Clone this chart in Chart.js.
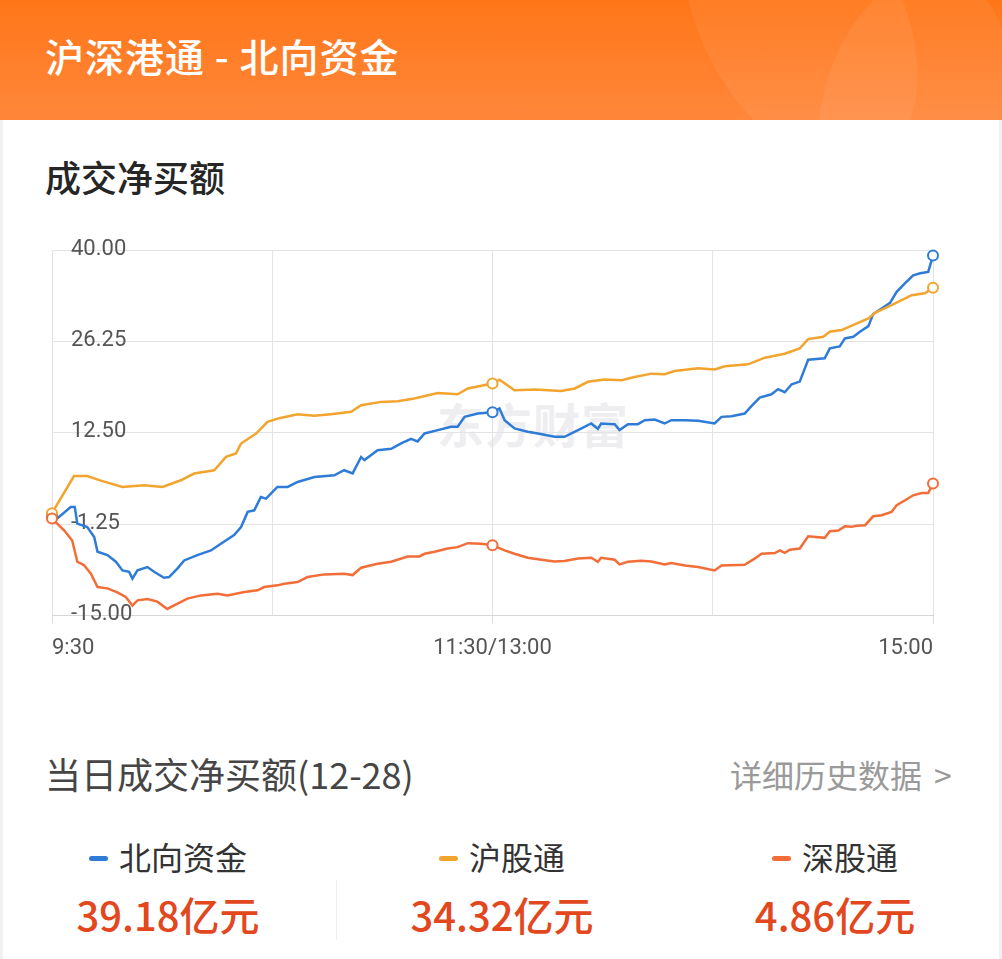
<!DOCTYPE html>
<html lang="zh-CN">
<head>
<meta charset="utf-8">
<title>沪深港通 - 北向资金</title>
<script src="https://cdn.jsdelivr.net/npm/chart.js@4.4.1/dist/chart.umd.min.js"></script>
<style>
  html, body { margin: 0; padding: 0; }
  body {
    width: 1002px; height: 959px; position: relative; overflow: hidden;
    background: #f1f1f1;
    font-family: "Noto Sans CJK SC", "Noto Sans", sans-serif;
  }
  .header {
    position: absolute; left: 0; top: 0; width: 1002px; height: 120px; overflow: hidden;
    background: linear-gradient(180deg, #ff7618 0%, #ff873b 100%);
  }
  .header h1 {
    position: absolute; left: 45px; top: 36px; margin: 0;
    font-size: 39px; line-height: 1; font-weight: 500; color: #fff; letter-spacing: 1px;
  }
  .deco { position: absolute; border-radius: 50%; background: rgba(255, 255, 255, 0.06); }
  .page { position: absolute; left: 3px; top: 120px; width: 996px; height: 839px; background: #fff; }
  .abs { position: absolute; line-height: 1; white-space: nowrap; }
  .sub { left: 45px; top: 158px; font-size: 36px; font-weight: 500; color: #262626; }
  .watermark { left: 437px; top: 399px; font-size: 47px; font-weight: 700; color: #eeeef1; letter-spacing: 1px; }
  #chartBox { position: absolute; left: 0; top: 200px; width: 1002px; height: 474px; }
  .today { left: 45px; top: 755px; font-size: 36px; color: #454545; }
  .more { left: 730px; top: 758px; font-size: 32px; color: #9a9a9a; }
  .more span { margin-left: 12px; }
  .col { position: absolute; top: 840px; width: 334px; text-align: center; }
  .legend { font-size: 32px; color: #333; line-height: 1; }
  .legend i {
    display: inline-block; width: 19px; height: 5px; border-radius: 3px;
    vertical-align: middle; margin-right: 11px; position: relative; top: -3px;
  }
  .value { margin-top: 22px; font-size: 40px; font-weight: 500; color: #e2471d; line-height: 1; }
  .sep { position: absolute; left: 336px; top: 880px; width: 1px; height: 60px; background: #efefef; }
</style>
</head>
<body>
<div class="header">
  <div class="deco" style="left:700px; top:-150px; width:200px; height:330px; transform:rotate(-28deg);"></div>
  <div class="deco" style="left:820px; top:-30px; width:190px; height:300px; transform:rotate(12deg);"></div>
  <h1>沪深港通 - 北向资金</h1>
</div>
<div class="page"></div>

<div class="abs sub">成交净买额</div>
<div class="abs watermark">东方财富</div>
<div id="chartBox"><canvas id="flowChart" width="1002" height="474"></canvas></div>

<div class="abs today">当日成交净买额(12-28)</div>
<div class="abs more">详细历史数据<span>&gt;</span></div>

<div class="col" style="left:1px;">
  <div class="legend"><i style="background:#2f7bd8"></i>北向资金</div>
  <div class="value">39.18亿元</div>
</div>
<div class="col" style="left:335px;">
  <div class="legend"><i style="background:#f2a42e"></i>沪股通</div>
  <div class="value">34.32亿元</div>
</div>
<div class="col" style="left:668px;">
  <div class="legend"><i style="background:#f26d37"></i>深股通</div>
  <div class="value">4.86亿元</div>
</div>
<div class="sep"></div>

<script>
// axes (minutes after 9:30, trading time only; 120 = 11:30/13:00)
const xTickValues = [0, 60, 120, 180, 240];
const xTickLabels = ['9:30', '', '11:30/13:00', '', '15:00'];
const yTickValues = [-15, -1.25, 12.5, 26.25, 40];

// 北向资金 (亿元)
const northTimes = [0, 1.4, 5.1, 6.2, 6.9, 9.6, 11.5, 12.4, 15.1, 17.4, 19.2, 21.0, 21.9, 23.3, 26.0, 27.8,
  30.5, 31.9, 34.2, 36.0, 39.6, 43.3, 46.0, 49.6, 51.5, 53.3, 55.1, 56.9, 58.3, 61.4, 64.2, 66.9, 71.5,
  76.9, 79.6, 81.9, 84.2, 85.1, 88.7, 92.4, 95.1, 97.8, 99.6, 101.5, 105.1, 108.7, 110.5, 112.4, 116.0,
  120, 121.9, 123.3, 126.0, 129.6, 132.4, 136.9, 139.6, 143.3, 146.9, 148.7, 149.6, 153.3, 154.6, 156.9,
  159.6, 161.5, 164.2, 166.9, 168.7, 172.4, 176.0, 180.5, 182.4, 185.1, 188.7, 190.6, 192.8, 196.0, 197.8,
  199.6, 201.5, 203.7, 206.0, 210.5, 211.9, 214.6, 216.0, 218.3, 220.1, 222.4, 223.7, 226.0, 228.3, 230.1,
  232.4, 234.6, 236.5, 238.7, 240];
const northValues = [0, -0.4, 1.34, 1.34, -1.16, -1.67, -3.17, -5.4, -5.9, -6.9, -8.2, -8.4, -9.44, -8.2, -7.7, -8.4,
  -9.3, -9.2, -7.9, -6.7, -5.9, -5.2, -4.2, -2.9, -1.67, 0.6, 0.84, 2.85, 2.6, 4.35, 4.35, 5.1, 5.86,
  6.1, 6.87, 6.4, 8.87, 8.4, 9.88, 10.1, 10.9, 11.6, 11.2, 12.4, 12.9, 13.4, 13.4, 14.9, 15.4,
  15.6, 16.15, 14.4, 13.15, 12.65, 12.4, 11.9, 11.9, 12.9, 13.9, 13.1, 13.9, 13.8, 12.9, 13.8,
  13.8, 14.4, 14.5, 13.9, 14.4, 14.4, 14.3, 13.9, 14.9, 15.0, 15.4, 16.55, 17.8, 18.3, 19.07,
  18.6, 19.8, 20.2, 23.5, 23.7, 25.2, 25.5, 26.7, 26.95, 27.7, 28.55, 30.36, 31.2, 32.06, 33.7,
  35.0, 36.2, 36.5, 36.7, 39.18];

// 沪股通 (亿元)
const shTimes = [0, 6.0, 9.6, 13.3, 19.2, 25.1, 30.1, 35.1, 38.7, 44.2, 47.4, 50.1, 51.5, 55.6, 58.7, 61.9,
  66.9, 71.5, 76.0, 81.5, 84.2, 89.6, 94.2, 98.7, 105.1, 110.5, 113.3, 120, 121.9, 126.0, 131.5, 138.7,
  142.4, 146.0, 150.5, 155.1, 158.7, 163.3, 166.9, 169.6, 176.0, 180.5, 183.3, 189.6, 194.2, 199.6, 203.7,
  206.0, 210.1, 211.9, 215.1, 219.6, 222.4, 224.2, 228.7, 234.2, 237.8, 240];
const shValues = [0.4, 6.0, 6.0, 5.3, 4.35, 4.6, 4.35, 5.36, 6.37, 6.87, 8.87, 9.38, 10.89, 12.39, 14.14, 14.7,
  15.3, 15.05, 15.3, 15.65, 16.66, 17.15, 17.26, 17.66, 18.5, 18.3, 19.17, 19.92, 20.5, 18.9, 19.0, 18.8,
  19.17, 20.17, 20.5, 20.4, 20.9, 21.4, 21.3, 21.8, 22.2, 22.03, 22.5, 22.8, 23.8, 24.4, 25.2,
  26.6, 26.95, 27.7, 27.95, 29.05, 29.7, 30.56, 31.7, 33.2, 33.5, 34.32];

// 深股通 (亿元)
const szTimes = [0, 3.3, 5.5, 6.9, 8.7, 10.6, 12.4, 15.1, 17.8, 20.1, 21.9, 23.3, 26.0, 28.7, 31.4, 34.2,
  36.9, 40.6, 45.1, 47.8, 52.4, 56.0, 57.8, 61.4, 63.3, 66.9, 69.6, 74.2, 79.6, 81.9, 84.2, 88.7, 92.4,
  96.9, 100.1, 101.5, 104.2, 107.8, 110.5, 113.3, 116.9, 120, 123.3, 126.0, 129.6, 133.3, 136.9, 139.6,
  143.3, 146.9, 148.7, 149.6, 153.3, 154.6, 156.9, 160.5, 163.3, 166.9, 168.7, 172.4, 176.0, 180.5, 182.4,
  188.7, 191.5, 193.3, 196.9, 198.3, 199.6, 201.0, 203.7, 206.0, 210.5, 211.9, 214.2, 216.0, 217.8, 219.2,
  221.5, 223.7, 226.0, 228.7, 230.1, 232.4, 234.6, 236.9, 238.7, 240];
const szValues = [-0.4, -2.17, -3.7, -6.9, -7.4, -8.7, -10.7, -10.9, -11.5, -12.2, -13.5, -12.7, -12.5, -12.9, -14.0, -13.2,
  -12.45, -11.96, -11.7, -11.96, -11.45, -11.2, -10.7, -10.45, -10.2, -9.95, -9.2, -8.8, -8.7, -8.9, -7.8, -7.2, -6.9,
  -6.1, -6.1, -5.7, -5.4, -4.9, -4.7, -4.1, -4.2, -4.4, -5.2, -5.7, -6.3, -6.6, -6.85, -6.8,
  -6.4, -6.3, -6.9, -6.3, -6.6, -7.3, -6.9, -6.75, -6.85, -7.3, -7.1, -7.45, -7.7, -8.2, -7.45,
  -7.35, -6.4, -5.7, -5.6, -5.2, -5.55, -5.1, -4.9, -3.07, -3.3, -2.3, -2.2, -1.57, -1.65, -1.5,
  -1.4, -0.06, 0.1, 0.6, 1.6, 2.35, 3.1, 3.45, 3.45, 4.86];

const markTimes = [0, 120, 240];

function toPoints(times, values) {
  return times.map((t, i) => ({ x: t, y: values[i] }));
}

function makeSet(label, times, values, color) {
  return {
    label: label,
    data: toPoints(times, values),
    borderColor: color,
    borderWidth: 2.5,
    tension: 0,
    clip: false,
    pointRadius: ctx => (ctx.raw && markTimes.includes(ctx.raw.x)) ? 5 : 0,
    pointBorderWidth: 2,
    pointBorderColor: color,
    pointBackgroundColor: '#fff',
    pointHoverRadius: 0
  };
}

const tickFont = { family: 'Roboto', size: 22 };

new Chart(document.getElementById('flowChart'), {
  type: 'line',
  data: {
    datasets: [
      makeSet('深股通', szTimes, szValues, '#f26d37'),
      makeSet('沪股通', shTimes, shValues, '#f2a42e'),
      makeSet('北向资金', northTimes, northValues, '#2f7bd8')
    ]
  },
  options: {
    responsive: false,
    animation: false,
    events: [],
    devicePixelRatio: 1,
    // the mirrored y axis still reserves its tick padding, so the left padding is smaller
    layout: { padding: { left: 14, right: 69, top: 50, bottom: 0 } },
    plugins: { legend: { display: false }, tooltip: { enabled: false } },
    scales: {
      x: {
        type: 'linear',
        min: 0,
        max: 240,
        afterBuildTicks: axis => { axis.ticks = xTickValues.map(v => ({ value: v })); },
        ticks: {
          align: 'inner',
          padding: 12,
          color: '#555',
          font: tickFont,
          maxRotation: 0,
          autoSkip: false,
          callback: (value, index) => xTickLabels[index]
        },
        grid: {
          color: '#e3e3e3',
          tickLength: 8,
          tickColor: ctx => xTickLabels[ctx.index] ? '#dcdcdc' : 'rgba(0,0,0,0)'
        },
        border: { display: true, color: '#d6d6d6' }
      },
      y: {
        min: -15,
        max: 40,
        afterBuildTicks: axis => { axis.ticks = yTickValues.map(v => ({ value: v })); },
        ticks: {
          mirror: true,
          padding: 19,
          labelOffset: -1,
          color: '#555',
          font: tickFont,
          callback: value => value.toFixed(2)
        },
        grid: { color: '#e3e3e3', drawTicks: false },
        border: { display: false }
      }
    }
  }
});
</script>
</body>
</html>
